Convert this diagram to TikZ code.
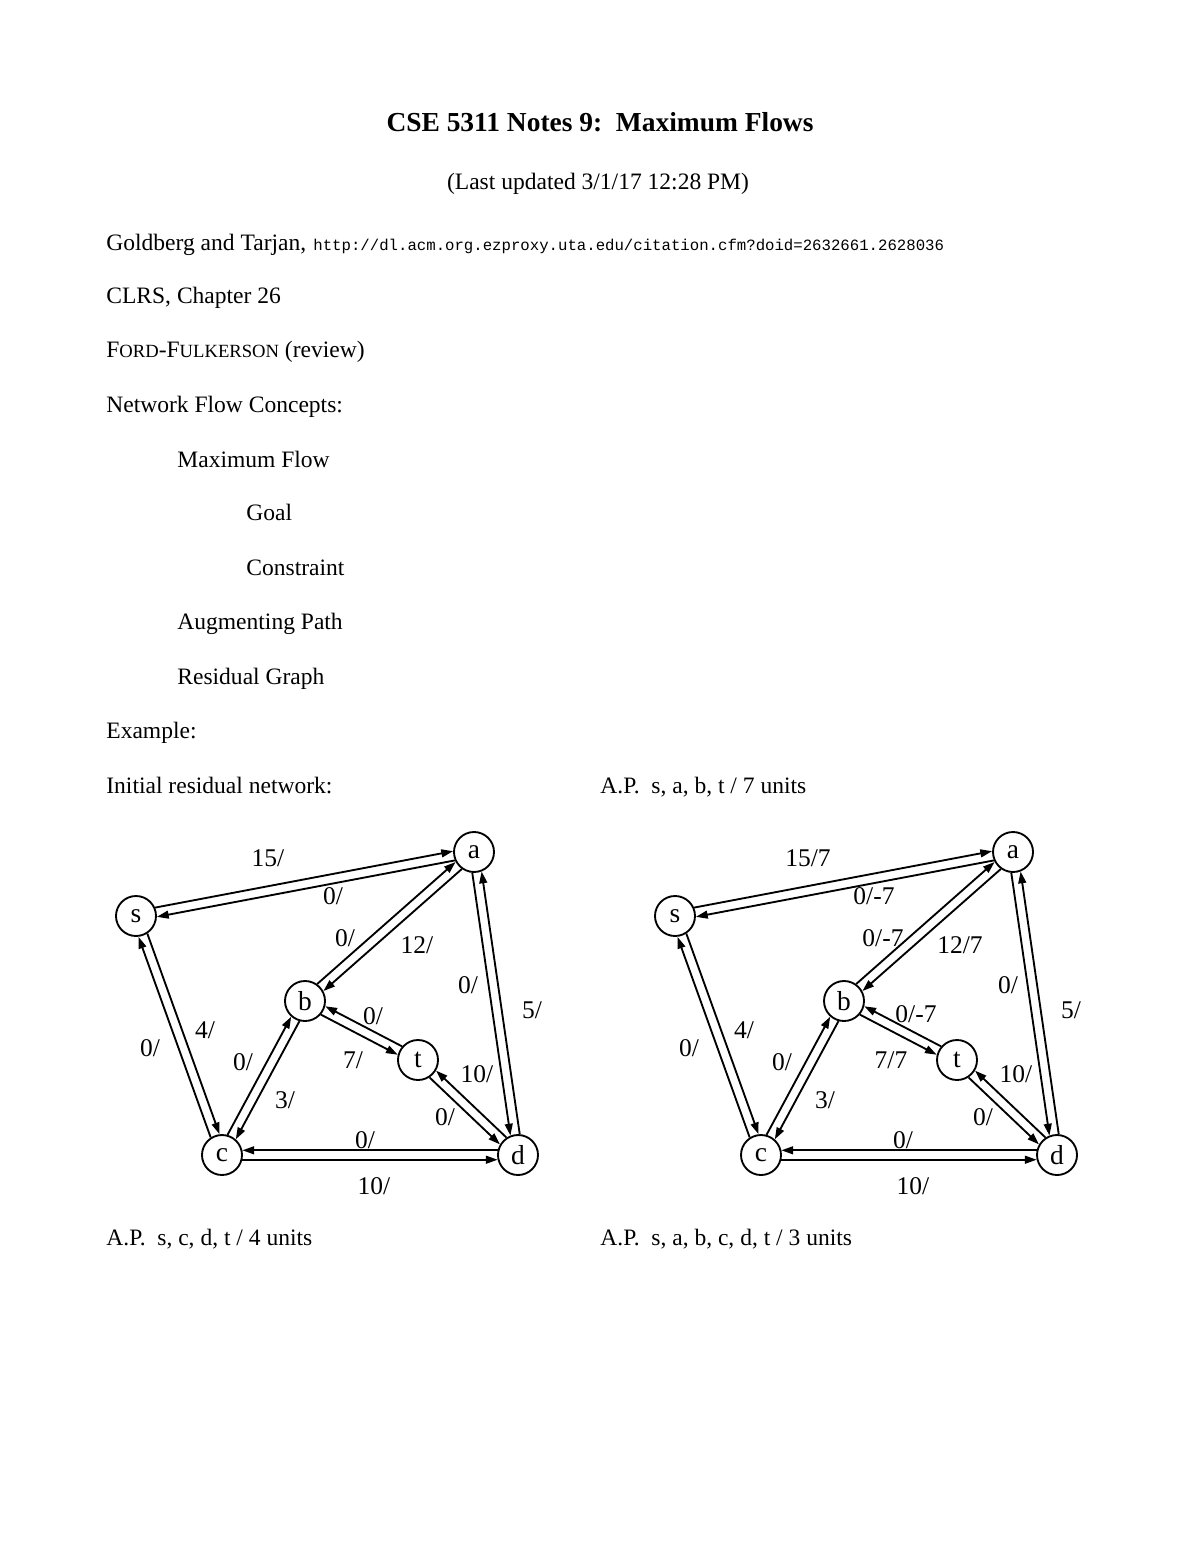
\documentclass[tikz,border=0pt]{standalone}
\usepackage{fontspec}
\setmainfont{Liberation Serif}
\setmonofont{Liberation Mono}
\usetikzlibrary{arrows.meta, calc, positioning}
\newcommand{\smcap}[1]{{\fontsize{9.5}{12}\selectfont #1}}
\tikzset{
  bodytext/.style={anchor=base west, inner sep=0pt, font=\fontsize{12}{14}\selectfont},
  titletext/.style={anchor=base, inner sep=0pt, font=\fontsize{14}{17}\selectfont\bfseries},
  urltext/.style={anchor=base west, inner sep=0pt, font=\fontsize{8}{10}\selectfont\ttfamily},
  resnode/.style={circle, draw, line width=0.95pt, fill=white, minimum size=20.4pt,
    inner sep=0pt, font=\fontsize{14}{15}\selectfont},
  resarrow/.style={-{Triangle[length=6pt, width=4pt]}, line width=0.95pt,
    shorten <=10.4pt, shorten >=10.4pt},
  flowlabel/.style={inner sep=0pt, font=\fontsize{13}{15}\selectfont}
}

\begin{document}
\begin{tikzpicture}[x=0.51pt, y=-0.51pt]
  \fill[white] (0,0) rectangle (1200,1553);
  \useasboundingbox (0,0) rectangle (1200,1553);

  \node[titletext] (title) at (600,132) {CSE 5311 Notes 9:\ \ Maximum Flows};
  \node[bodytext, anchor=base] (updated) at (598,190) {(Last updated 3/1/17 12:28 PM)};
  \node[bodytext] (gt) at (106,250) {Goldberg and Tarjan,};
  \node[urltext] (url) at (313,250) {http://dl.acm.org.ezproxy.uta.edu/citation.cfm?doid=2632661.2628036};
  \node[bodytext] (clrs) at (106,303) {CLRS, Chapter 26};
  \node[bodytext] (ff) at (106,357) {F\smcap{ORD}-F\smcap{ULKERSON} (review)};
  \node[bodytext] (concepts) at (106,412) {Network Flow Concepts:};
  \node[bodytext] (maxflow) at (177,467) {Maximum Flow};
  \node[bodytext] (goal) at (246,520) {Goal};
  \node[bodytext] (constraint) at (246,575) {Constraint};
  \node[bodytext] (augpath) at (177,629) {Augmenting Path};
  \node[bodytext] (resgraph) at (177,684) {Residual Graph};
  \node[bodytext] (example) at (106,738) {Example:};
  \node[bodytext] (initial) at (106,793) {Initial residual network:};
  \node[bodytext] (ap1) at (600,793) {A.P.\ \ s, a, b, t / 7 units};
  \node[bodytext] (ap2) at (106,1245) {A.P.\ \ s, c, d, t / 4 units};
  \node[bodytext] (ap3) at (600,1245) {A.P.\ \ s, a, b, c, d, t / 3 units};

  % left network
  \foreach \nm/\px/\py in {s/136/916, a/474/852, b/305/1001, t/418/1060, c/222/1155, d/518/1155}
    \node[resnode] (\nm1) at (\px,\py) {\nm};
  \foreach \u/\v/\p/\q in {s/a/90/-90, s/c/90/-90, a/b/90/-90, c/b/90/-90,
                           b/t/-90/90, t/d/-90/90, a/d/-90/90, c/d/-90/90} {
    \draw[resarrow] ($(\u1)!2.4pt!\p:(\v1)$) -- ($(\v1)!2.4pt!\q:(\u1)$);
    \draw[resarrow] ($(\v1)!2.4pt!\p:(\u1)$) -- ($(\u1)!2.4pt!\q:(\v1)$);
  }
  \foreach \lx/\ly/\txt in {268/858/{15/}, 333/896/{0/}, 345/938/{0/}, 417/945/{12/},
                            468/985/{0/}, 532/1010/{5/}, 373/1016/{0/}, 353/1060/{7/},
                            477/1074/{10/}, 445/1117/{0/}, 150/1048/{0/}, 205/1030/{4/},
                            243/1062/{0/}, 285/1100/{3/}, 365/1140/{0/}, 374/1186/{10/}}
    \node[flowlabel] at (\lx,\ly) {\txt};

  % network after first augmenting path
  \begin{scope}[shift={(539,0)}]
    \foreach \nm/\px/\py in {s/136/916, a/474/852, b/305/1001, t/418/1060, c/222/1155, d/518/1155}
      \node[resnode] (\nm2) at (\px,\py) {\nm};
    \foreach \u/\v/\p/\q in {s/a/90/-90, s/c/90/-90, a/b/90/-90, c/b/90/-90,
                             b/t/-90/90, t/d/-90/90, a/d/-90/90, c/d/-90/90} {
      \draw[resarrow] ($(\u2)!2.4pt!\p:(\v2)$) -- ($(\v2)!2.4pt!\q:(\u2)$);
      \draw[resarrow] ($(\v2)!2.4pt!\p:(\u2)$) -- ($(\u2)!2.4pt!\q:(\v2)$);
    }
    \foreach \lx/\ly/\txt in {269/858/{15/7}, 335/896/{0/-7}, 344/938/{0/-7}, 421/945/{12/7},
                              469/985/{0/}, 532/1010/{5/}, 377/1014/{0/-7}, 352/1060/{7/7},
                              477/1074/{10/}, 444/1117/{0/}, 150/1048/{0/}, 205/1030/{4/},
                              243/1062/{0/}, 286/1100/{3/}, 364/1140/{0/}, 374/1186/{10/}}
      \node[flowlabel] at (\lx,\ly) {\txt};
  \end{scope}
\end{tikzpicture}
\end{document}
